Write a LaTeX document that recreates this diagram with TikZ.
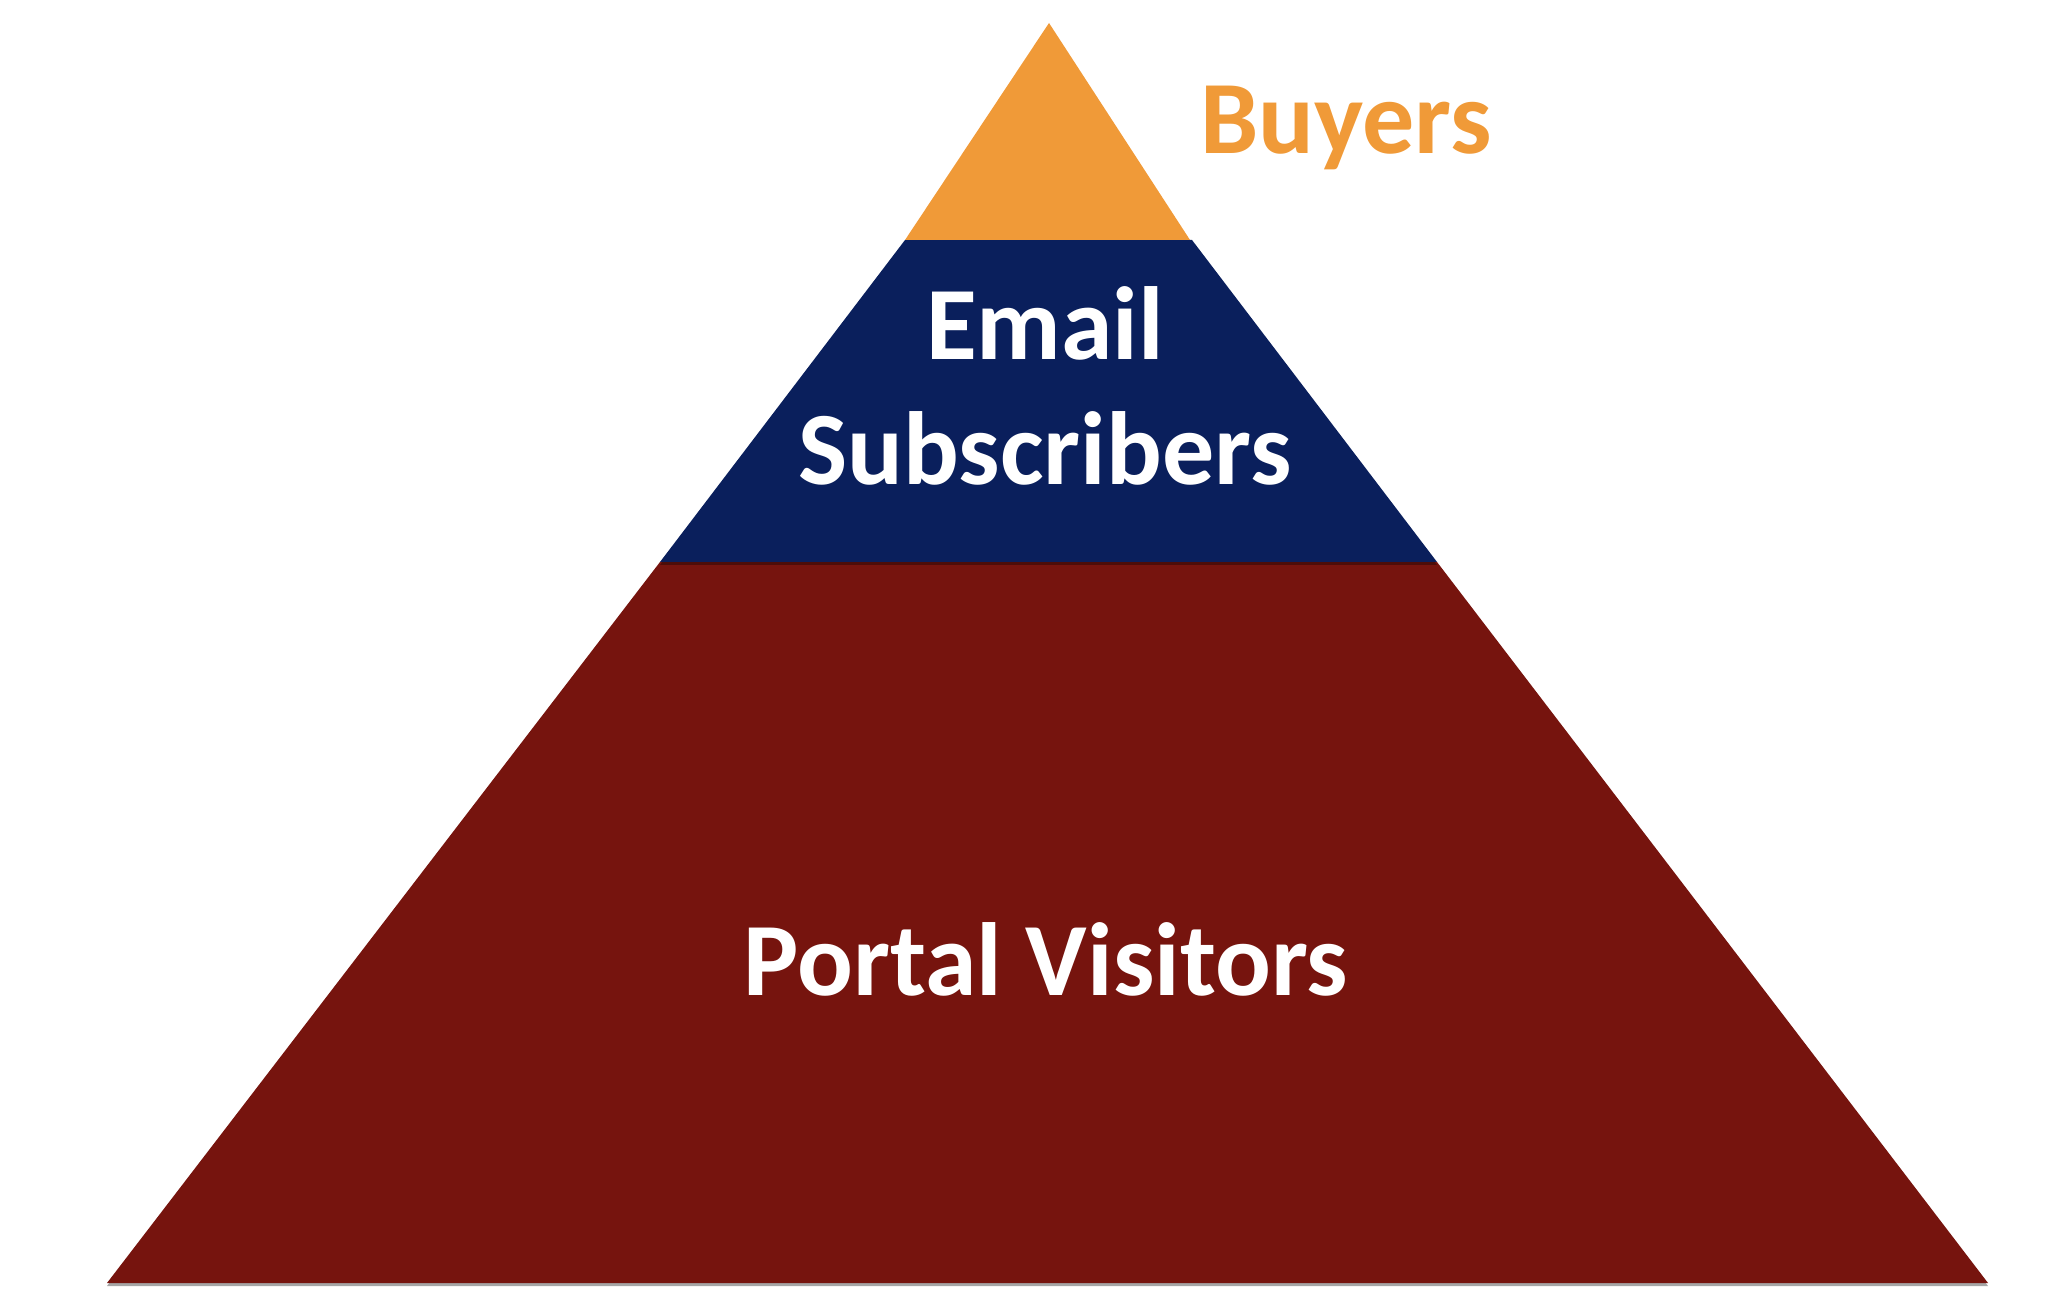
\documentclass[tikz,border=0pt]{standalone}
\usepackage{fontspec}
\setmainfont{Carlito}
\usepackage{xcolor}
\usepackage{tikz}
\usetikzlibrary{positioning,shadows}
\definecolor{buyorange}{HTML}{F09A38}
\definecolor{mailnavy}{HTML}{0A1F5C}
\definecolor{portalred}{HTML}{76140E}
\tikzset{
    layer/.style={
        draw=none, line join=miter
    },
    layershadow/.style={
        drop shadow={shadow xshift=0pt, shadow yshift=-1.5pt, opacity=0.35, fill=black}
    },
    tierlabel/.style={
        anchor=base, inner sep=0pt, align=center,
        font=\fontsize{52}{62.5}\selectfont\bfseries
    }
}
\begin{document}
\begin{tikzpicture}[x=0.5pt, y=-0.5pt]

%% page 2048 x 1293 px, y runs downwards
\useasboundingbox (0,0) rectangle (2048,1293);

%% Tier 3 – portal visitors, y=562 .. 1283
\fill[layer, portalred, layershadow]
    (660,562) -- (1437,562) -- (1988,1283) -- (107,1283) -- cycle;

%% Tier 2 – email subscribers, y=240 .. 562
\fill[layer, mailnavy, layershadow]
    (905,240) -- (1192,240) -- (1437,562) -- (660,562) -- cycle;

%% Tier 1 – buyers, apex at x=1049
\fill[layer, buyorange]
    (1049,23) -- (1190,240) -- (905,240) -- cycle;

%% Labels, placed on their baselines (two-line label: last line)
\node[tierlabel, text=buyorange] (buyers)  at (1346,154) {Buyers};
\node[tierlabel, text=white]     (email)   at (1045,485) {Email\\Subscribers};
\node[tierlabel, text=white]     (portal)  at (1046,995) {Portal Visitors};

\end{tikzpicture}
\end{document}
